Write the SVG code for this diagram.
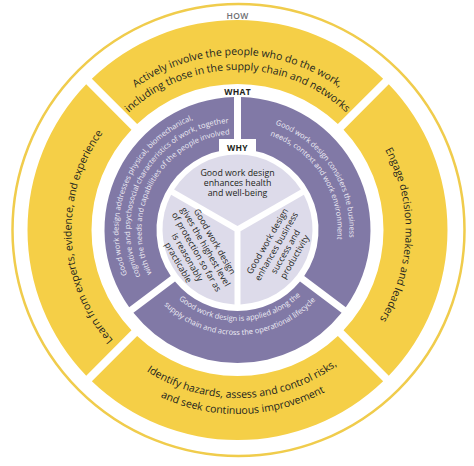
<svg xmlns="http://www.w3.org/2000/svg" xmlns:xlink="http://www.w3.org/1999/xlink" width="474" height="466" viewBox="0 0 474 466">
<style>
text{font-family:"Open Sans","Noto Sans",sans-serif}
.yel{fill:#f5cf47}
.pur{fill:#8179a6}
.lav{fill:#dddbea}
.yt{font-size:10.5px;fill:#231f20;text-anchor:middle}
.pt{font-size:7.5px;fill:#eeedf5;text-anchor:middle}
.it{font-size:8.8px;fill:#231f20;text-anchor:middle}
.lbl{font-size:8.5px;font-weight:700;fill:#231f20;text-anchor:middle;letter-spacing:0.3px}
</style>
<defs>
<path id="cw175" d="M 237.5 405 A 175 175 0 1 1 237.5 55 A 175 175 0 1 1 237.5 405"/>
<path id="cw160" d="M 237.5 390 A 160 160 0 1 1 237.5 70 A 160 160 0 1 1 237.5 390"/>
<path id="cw168" d="M 237.5 398 A 168 168 0 1 1 237.5 62 A 168 168 0 1 1 237.5 398"/>
<path id="cw166" d="M 237.5 396 A 166 166 0 1 1 237.5 64 A 166 166 0 1 1 237.5 396"/>
<path id="ccw168" d="M 69.5 230 A 168 168 0 0 0 405.5 230"/>
<path id="ccw184" d="M 53.5 230 A 184 184 0 0 0 421.5 230"/>
<path id="cw119" d="M 237.5 349 A 119 119 0 1 1 237.5 111 A 119 119 0 1 1 237.5 349"/>
<path id="cw107" d="M 237.5 337.5 A 107.5 107.5 0 1 1 237.5 122.5 A 107.5 107.5 0 1 1 237.5 337.5"/>
<path id="cw96" d="M 237.5 326 A 96 96 0 1 1 237.5 134 A 96 96 0 1 1 237.5 326"/>
<path id="cw112" d="M 237.5 342 A 112 112 0 1 1 237.5 118 A 112 112 0 1 1 237.5 342"/>
<path id="cw100" d="M 237.5 330 A 100 100 0 1 1 237.5 130 A 100 100 0 1 1 237.5 330"/>
<path id="ccw91" d="M 146.5 230 A 91 91 0 0 0 328.5 230"/>
<path id="ccw105" d="M 132.5 230 A 105 105 0 0 0 342.5 230"/>
</defs>
<rect width="474" height="466" fill="#ffffff"/>
<g id="outer-ring">
<circle cx="238.5" cy="230" r="226" fill="none" stroke="#f0cc4c" stroke-width="2.5"/>
<text class="lbl" x="237.5" y="19" style="fill:#6d6e71;font-weight:600">HOW</text>
</g>
<g id="how-top">
<path class="yel" d="M 91.86 78.71 A 210 210 0 0 1 383.14 78.71 L 337.87 123.97 A 146 146 0 0 0 137.13 123.97 Z"/>
<text class="yt"><textPath xlink:href="#cw175" startOffset="50%">Actively involve the people who do the work,</textPath></text>
<text class="yt"><textPath xlink:href="#cw160" startOffset="50%">including those in the supply chain and networks</textPath></text>
</g>
<g id="how-right">
<path class="yel" d="M 388.79 84.36 A 210 210 0 0 1 388.79 375.64 L 343.53 330.37 A 146 146 0 0 0 343.53 129.63 Z"/>
<text class="yt"><textPath xlink:href="#cw168" startOffset="75.5%">Engage decision makers and leaders</textPath></text>
</g>
<g id="how-bottom">
<path class="yel" d="M 383.14 381.29 A 210 210 0 0 1 91.86 381.29 L 137.13 336.03 A 146 146 0 0 0 337.87 336.03 Z"/>
<text class="yt"><textPath xlink:href="#ccw168" startOffset="51%">Identify hazards, assess and control risks,</textPath></text>
<text class="yt"><textPath xlink:href="#ccw184" startOffset="51%">and seek continuous improvement</textPath></text>
</g>
<g id="how-left">
<path class="yel" d="M 86.21 375.64 A 210 210 0 0 1 86.21 84.36 L 131.47 129.63 A 146 146 0 0 0 131.47 330.37 Z"/>
<text class="yt"><textPath xlink:href="#cw166" startOffset="24.2%">Learn from experts, evidence, and experience</textPath></text>
</g>
<g id="what-label">
<text class="lbl" x="237.5" y="94.5">WHAT</text>
</g>
<g id="what-left">
<path class="pur" d="M 129.21 307.22 A 133 133 0 0 1 234 97.05 L 234 149.08 A 81 81 0 0 0 170.76 275.91 Z"/>
<text class="pt"><textPath xlink:href="#cw119" startOffset="31.4%">Good work design addresses physical, biomechanical,</textPath></text>
<text class="pt"><textPath xlink:href="#cw107" startOffset="33.3%">cognitive and psychosocial characteristics of work, together</textPath></text>
<text class="pt"><textPath xlink:href="#cw96" startOffset="33.1%">with the needs and capabilities of the people involved</textPath></text>
</g>
<g id="what-right">
<path class="pur" d="M 241 97.05 A 133 133 0 0 1 345.79 307.22 L 304.24 275.91 A 81 81 0 0 0 241 149.08 Z"/>
<text class="pt"><textPath xlink:href="#cw112" startOffset="65.8%">Good work design considers the business</textPath></text>
<text class="pt"><textPath xlink:href="#cw100" startOffset="65.9%">needs, context and work environment</textPath></text>
</g>
<g id="what-bottom">
<path class="pur" d="M 341.58 312.81 A 133 133 0 0 1 133.42 312.81 L 175 281.5 A 81 81 0 0 0 300.02 281.5 Z"/>
<text class="pt"><textPath xlink:href="#ccw91" startOffset="51%">Good work design is applied along the</textPath></text>
<text class="pt"><textPath xlink:href="#ccw105" startOffset="51%">supply chain and across the operational lifecycle</textPath></text>
</g>
<g id="why-label">
<rect x="219" y="139" width="37" height="14" fill="#ffffff"/>
<text class="lbl" x="237.5" y="151">WHY</text>
</g>
<g id="why-top">
<path class="lav" d="M 237.5 226.04 L 174.1 189.43 A 75 75 0 0 1 300.9 189.43 Z"/>
<text class="it" x="237.5" y="176">Good work design</text>
<text class="it" x="237.5" y="186">enhances health</text>
<text class="it" x="237.5" y="196">and well-being</text>
</g>
<g id="why-left">
<path class="lav" d="M 234.5 231.23 L 234.5 304.44 A 75 75 0 0 1 171.1 194.63 Z"/>
<g transform="translate(196.5 252) rotate(60)">
<text class="it" x="0" y="-18">Good work design</text>
<text class="it" x="0" y="-7.5">gives the highest level</text>
<text class="it" x="0" y="3">of protection so far as</text>
<text class="it" x="0" y="13.5">is reasonably</text>
<text class="it" x="0" y="24">practicable</text>
</g>
</g>
<g id="why-right">
<path class="lav" d="M 240.5 231.23 L 303.9 194.63 A 75 75 0 0 1 240.5 304.44 Z"/>
<g transform="translate(281 249) rotate(-60)">
<text class="it" x="0" y="-12.75">Good work design</text>
<text class="it" x="0" y="-2.25">enhances business</text>
<text class="it" x="0" y="8.25">success and</text>
<text class="it" x="0" y="18.75">productivity</text>
</g>
</g>
<g id="connectors"></g>
</svg>
